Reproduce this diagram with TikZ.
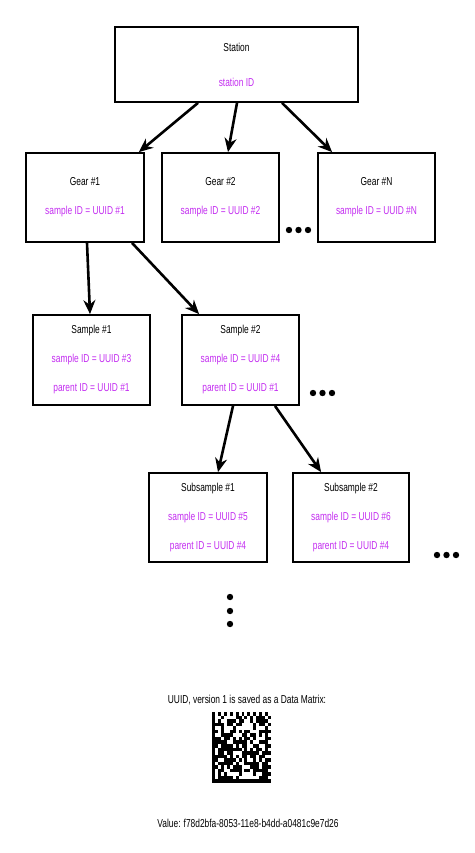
\documentclass[tikz,border=0pt]{standalone}
\usepackage{fontspec}
\setmainfont[FakeStretch=0.73]{Liberation Sans}
\usetikzlibrary{arrows.meta}
\definecolor{idcolor}{RGB}{195,45,240}
\begin{document}
\begin{tikzpicture}[x=1pt,y=-1pt,
    box/.style={draw,line width=1.8pt,minimum width=117pt,minimum height=89pt,
      align=center,inner sep=0pt,font=\fontsize{11.5}{29}\selectfont},
    link/.style={line width=2.6pt,-{Stealth[length=14pt,width=12pt]}},
    dot/.style={fill=black}]
  \useasboundingbox (0,0) rectangle (474,853);
  \node[box,minimum width=243pt,minimum height=75pt] (station) at (236.5,64.5)
    {Station\\[6pt]\textcolor{idcolor}{station ID}};
  \node[box,minimum width=118pt] (gear1) at (85,197.5)
    {Gear \#1\\\textcolor{idcolor}{sample ID = UUID \#1}};
  \node[box] (gear2) at (220.5,197.5)
    {Gear \#2\\\textcolor{idcolor}{sample ID = UUID \#2}};
  \node[box] (gearN) at (376.5,197.5)
    {Gear \#N\\\textcolor{idcolor}{sample ID = UUID \#N}};
  \node[box,minimum height=90pt] (sample1) at (91.5,360)
    {Sample \#1\\\textcolor{idcolor}{sample ID = UUID \#3}\\\textcolor{idcolor}{parent ID = UUID \#1}};
  \node[box,minimum height=90pt] (sample2) at (240.5,360)
    {Sample \#2\\\textcolor{idcolor}{sample ID = UUID \#4}\\\textcolor{idcolor}{parent ID = UUID \#1}};
  \node[box,minimum width=118pt] (sub1) at (208,517.5)
    {Subsample \#1\\\textcolor{idcolor}{sample ID = UUID \#5}\\\textcolor{idcolor}{parent ID = UUID \#4}};
  \node[box,minimum width=116pt] (sub2) at (351,517.5)
    {Subsample \#2\\\textcolor{idcolor}{sample ID = UUID \#6}\\\textcolor{idcolor}{parent ID = UUID \#4}};
  \begin{scope}[link]
    \draw ([xshift=-38.5pt]station.south) to ([xshift=-6pt]gear1.north east);
    \draw ([xshift=0.5pt]station.south) to ([xshift=7.5pt]gear2.north);
    \draw ([xshift=45.5pt]station.south) to ([xshift=15pt]gearN.north west);
    \draw ([xshift=2pt]gear1.south) to ([xshift=-1.5pt]sample1.north);
    \draw ([xshift=47pt]gear1.south) to ([xshift=18pt]sample2.north west);
    \draw ([xshift=-7.5pt]sample2.south) to ([xshift=10pt]sub1.north);
    \draw ([xshift=34.5pt]sample2.south) to ([xshift=29pt]sub2.north west);
  \end{scope}
  % continuation dots
  \foreach \x in {289,298.5,308} \fill[dot] (\x,230) circle (3.2pt);
  \foreach \x in {313,322.5,332} \fill[dot] (\x,393) circle (3.2pt);
  \foreach \x in {437,446.5,456} \fill[dot] (\x,555) circle (3.2pt);
  \foreach \y in {597,611,624} \fill[dot] (230,\y) circle (3.2pt);
  % data matrix
  \node[font=\fontsize{11.5}{12}\selectfont] (dmtitle) at (247,700)
    {UUID, version 1 is saved as a Data Matrix:};
  \begin{scope}[shift={(212,712)},x=2.95pt,y=-3.55pt]
    \fill (0,0) rectangle (1,20);
    \fill (0,19) rectangle (20,20);
    \foreach \k in {0,2,...,18} {
      \fill (\k,0) rectangle (\k+1,1);
      \fill (19,\k+1) rectangle (20,\k+2);
    }
    \pgfmathsetseed{11}
    \foreach \i in {1,...,18} {
      \foreach \j in {1,...,18} {
        \pgfmathtruncatemacro{\cell}{rnd<0.55 ? 1 : 0}
        \ifnum\cell=1 \fill (\i,\j) rectangle (\i+1,\j+1); \fi
      }
    }
  \end{scope}
  \node[font=\fontsize{11.5}{12}\selectfont] (dmvalue) at (248,823)
    {Value: f78d2bfa-8053-11e8-b4dd-a0481c9e7d26};
\end{tikzpicture}
\end{document}
